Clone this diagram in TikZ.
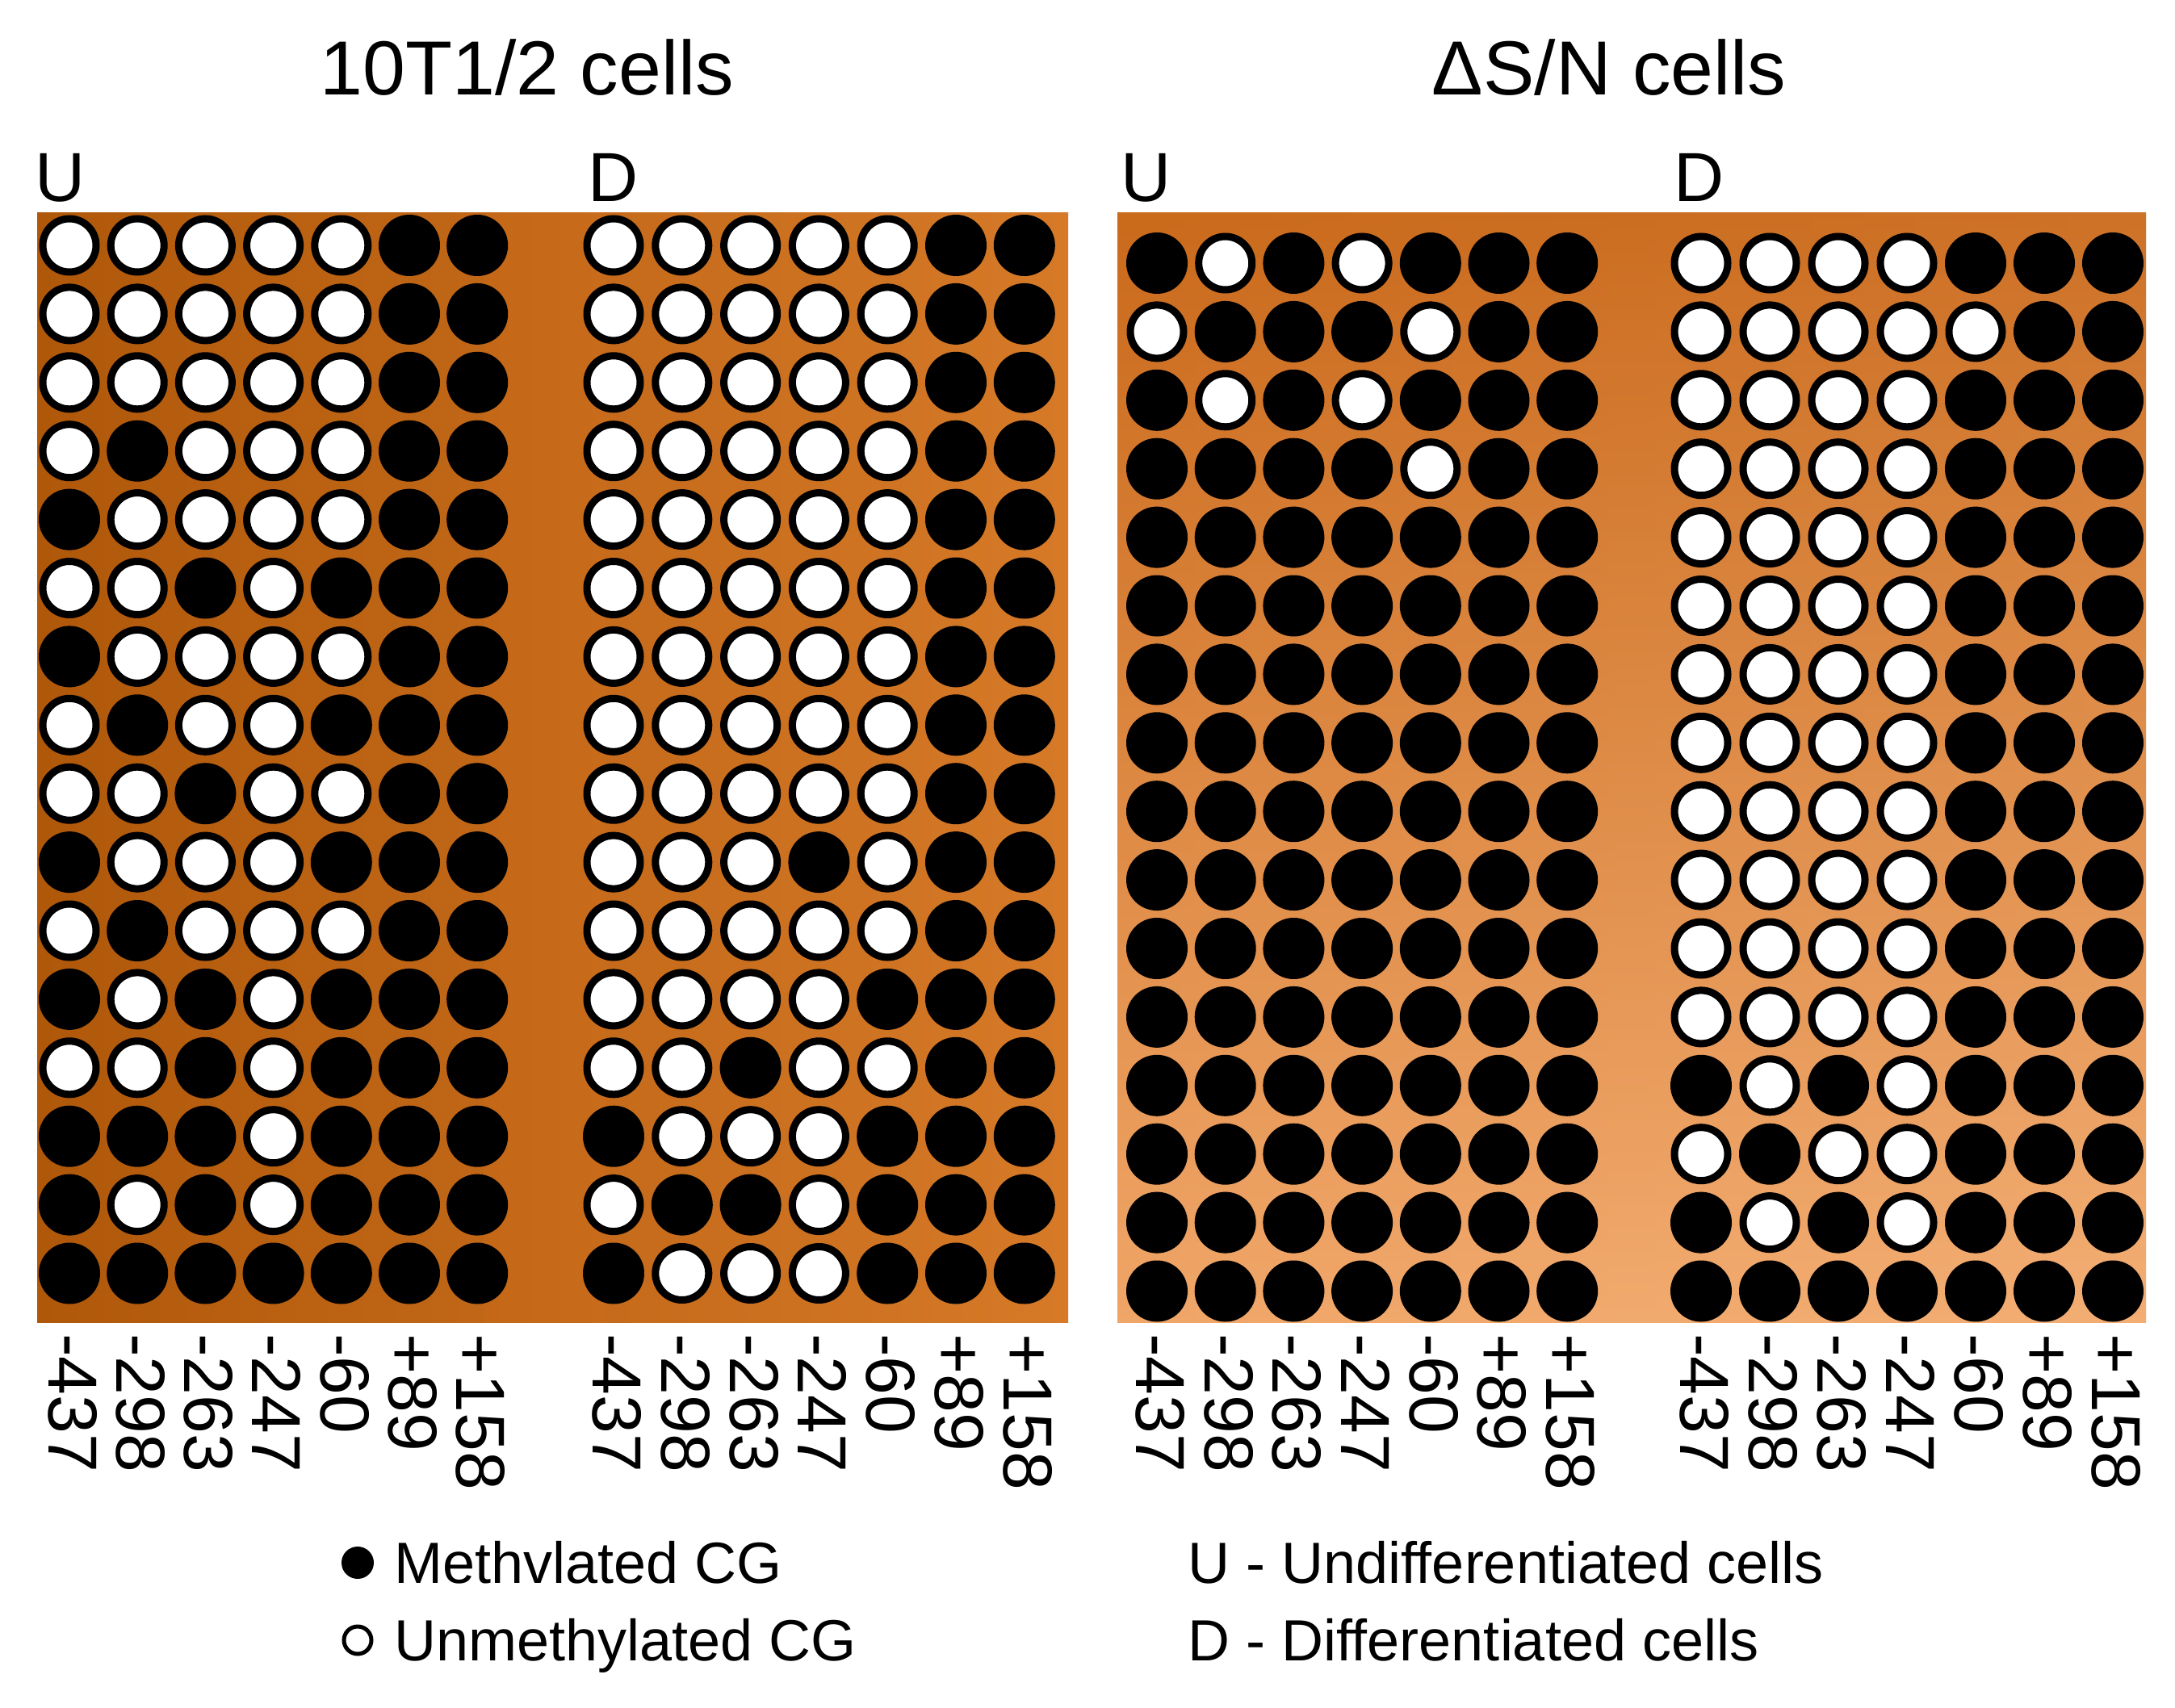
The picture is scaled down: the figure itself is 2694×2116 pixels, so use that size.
\documentclass[tikz,border=0pt]{standalone}
\usepackage{fontspec}
\setmainfont{Liberation Sans}
\begin{document}
\begin{tikzpicture}[x=1pt,y=-1pt,
  meth/.style={fill=black},
  unmeth/.style={fill=white,draw=black,line width=9pt},
  title/.style={font=\fontsize{95}{110}\selectfont,anchor=base},
  grp/.style={font=\fontsize{86}{100}\selectfont,anchor=base west},
  poslab/.style={font=\fontsize{86}{96}\selectfont,rotate=-90,anchor=west,inner sep=0pt},
  leg/.style={font=\fontsize{72}{82}\selectfont,anchor=base west,inner sep=0pt}]
\useasboundingbox (0,0) rectangle (2694,2116);
\fill[white] (0,0) rectangle (2694,2116);
% backgrounds
\shade[left color={rgb,255:red,176;green,88;blue,10},right color={rgb,255:red,214;green,122;blue,40}] (46,264) rectangle (1323,1638);
\shade[left color={rgb,255:red,196;green,104;blue,24},middle color={rgb,255:red,232;green,150;blue,75},right color={rgb,255:red,200;green,108;blue,28}] (600,264) rectangle (750,1638);
\shade[top color={rgb,255:red,185;green,90;blue,12},bottom color={rgb,255:red,248;green,190;blue,140}] (1384,264) rectangle (2658,1638);
\shade[left color={rgb,255:red,228;green,130;blue,50},middle color={rgb,255:red,248;green,185;blue,130},right color={rgb,255:red,236;green,150;blue,80},opacity=0.4] (1384,264) rectangle (2658,1638);
% block macro: x0 y0 xpitch rows
\newcommand\mblock[4]{%
  \foreach \rw [count=\rr from 0] in {#4}{%
    \foreach \v [count=\cc from 0] in \rw {%
      \ifnum\v=1
        \fill[meth] ({#1+\cc*#3},{#2+\rr*84.9}) circle[radius=38pt];
      \else
        \draw[unmeth] ({#1+\cc*#3},{#2+\rr*84.9}) circle[radius=33pt];
      \fi
    }}}
\mblock{86}{304}{84.2}{{0,0,0,0,0,1,1},{0,0,0,0,0,1,1},{0,0,0,0,0,1,1},{0,1,0,0,0,1,1},{1,0,0,0,0,1,1},{0,0,1,0,1,1,1},{1,0,0,0,0,1,1},{0,1,0,0,1,1,1},{0,0,1,0,0,1,1},{1,0,0,0,1,1,1},{0,1,0,0,0,1,1},{1,0,1,0,1,1,1},{0,0,1,0,1,1,1},{1,1,1,0,1,1,1},{1,0,1,0,1,1,1},{1,1,1,1,1,1,1}}
\mblock{760}{304}{84.8}{{0,0,0,0,0,1,1},{0,0,0,0,0,1,1},{0,0,0,0,0,1,1},{0,0,0,0,0,1,1},{0,0,0,0,0,1,1},{0,0,0,0,0,1,1},{0,0,0,0,0,1,1},{0,0,0,0,0,1,1},{0,0,0,0,0,1,1},{0,0,0,1,0,1,1},{0,0,0,0,0,1,1},{0,0,0,0,1,1,1},{0,0,1,0,0,1,1},{1,0,0,0,1,1,1},{0,1,1,0,1,1,1},{1,0,0,0,1,1,1}}
\mblock{1433}{326}{84.7}{{1,0,1,0,1,1,1},{0,1,1,1,0,1,1},{1,0,1,0,1,1,1},{1,1,1,1,0,1,1},{1,1,1,1,1,1,1},{1,1,1,1,1,1,1},{1,1,1,1,1,1,1},{1,1,1,1,1,1,1},{1,1,1,1,1,1,1},{1,1,1,1,1,1,1},{1,1,1,1,1,1,1},{1,1,1,1,1,1,1},{1,1,1,1,1,1,1},{1,1,1,1,1,1,1},{1,1,1,1,1,1,1},{1,1,1,1,1,1,1}}
\mblock{2107}{326}{85}{{0,0,0,0,1,1,1},{0,0,0,0,0,1,1},{0,0,0,0,1,1,1},{0,0,0,0,1,1,1},{0,0,0,0,1,1,1},{0,0,0,0,1,1,1},{0,0,0,0,1,1,1},{0,0,0,0,1,1,1},{0,0,0,0,1,1,1},{0,0,0,0,1,1,1},{0,0,0,0,1,1,1},{0,0,0,0,1,1,1},{1,0,1,0,1,1,1},{0,1,0,0,1,1,1},{1,0,1,0,1,1,1},{1,1,1,1,1,1,1}}
% titles
\node[title] (t1) at (653,118) {10T1/2 cells};
\node[title] (t2) at (1993,118) {ΔS/N cells};
\node[grp] (u1) at (40,250) {U};
\node[grp] (d1) at (725,250) {D};
\node[grp] (u2) at (1385,250) {U};
\node[grp] (d2) at (2070,250) {D};
% position labels
\newcommand\plabels[3]{%
  \foreach \t [count=\cc from 0] in {-437,-298,-263,-247,-60,+89,+158}
    \node[poslab] (#3\cc) at ({#1+\cc*#2+4},1652) {\t};}
\plabels{86}{84.2}{a}
\plabels{760}{84.8}{b}
\plabels{1433}{84.7}{c}
\plabels{2107}{85}{d}
% legend
\fill[meth] (443,1936) circle[radius=20pt];
\draw[fill=white,draw=black,line width=5pt] (443,2032) circle[radius=17pt];
\node[leg] (l1) at (488,1961) {Methvlated CG};
\node[leg] (l2) at (488,2057) {Unmethylated CG};
\node[leg] (l3) at (1471,1961) {U - Undifferentiated cells};
\node[leg] (l4) at (1471,2057) {D - Differentiated cells};
\end{tikzpicture}
\end{document}
